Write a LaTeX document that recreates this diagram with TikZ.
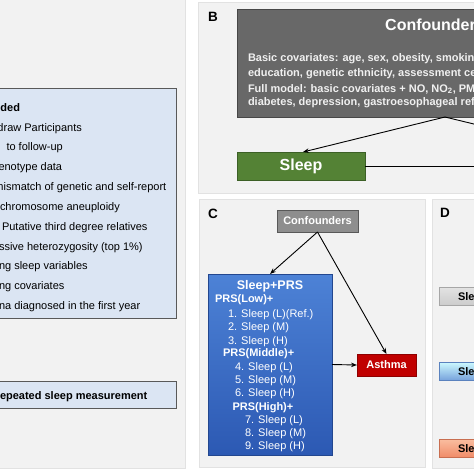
\documentclass[tikz,border=0pt]{standalone}
\usepackage{fontspec}
\setmainfont{Liberation Sans}
\usetikzlibrary{arrows.meta,shadows}
\definecolor{panelbg}{HTML}{F2F2F2}
\definecolor{panelln}{HTML}{E2E2E2}
\definecolor{shadowc}{HTML}{C4C4C4}
\definecolor{lightblue}{HTML}{DBE5F3}
\definecolor{boxline}{HTML}{595959}
\definecolor{darkgrey}{HTML}{686868}
\definecolor{midgrey}{HTML}{8E8E8E}
\definecolor{sleepgreen}{HTML}{548235}
\definecolor{sleepgreenln}{HTML}{3C6026}
\definecolor{prstop}{HTML}{4D82D6}
\definecolor{prsbot}{HTML}{2C59B3}
\definecolor{asthmared}{HTML}{C00000}
\definecolor{asthmaln}{HTML}{8E0000}
\begin{document}
\begin{tikzpicture}[x=1pt,y=-1pt,
  panel/.style={rectangle,fill=panelbg,draw=panelln,line width=0.6pt,inner sep=0pt,outer sep=0pt,
    drop shadow={shadow xshift=1.3pt,shadow yshift=-1.3pt,fill=shadowc,opacity=1}},
  box/.style={rectangle,inner sep=0pt,outer sep=0pt},
  txt/.style={inner sep=0pt,outer sep=0pt,font=\fontsize{11}{13}\selectfont},
  btxt/.style={txt,font=\fontsize{11}{13}\selectfont\bfseries},
  wtxt/.style={btxt,text=white},
  lbl/.style={inner sep=0pt,font=\fontsize{13.5}{15}\selectfont\bfseries},
  arr/.style={-{Stealth[length=6pt,width=4.5pt]},line width=0.9pt,black},
  ln/.style={line width=0.9pt,black}]
\useasboundingbox (0,0) rectangle (474,474);
\fill[white] (0,0) rectangle (474,474);
% panels
\node[panel,minimum width=190pt,minimum height=473pt] (pA) at (90,231.5) {};
\node[panel,minimum width=282pt,minimum height=191pt] (pB) at (339,97.5) {};
\node[panel,minimum width=226pt,minimum height=268pt] (pC) at (312,333) {};
\node[panel,minimum width=48pt,minimum height=269pt] (pD) at (456,333.5) {};
% Panel A
\node[box,fill=lightblue,draw=boxline,line width=1pt,minimum width=181pt,minimum height=230pt] (ex) at (85.5,203) {};
\node[btxt,anchor=base west] (a0) at (0.5,111) {ded};
\node[txt,anchor=base west] (a1) at (-2.5,131) {draw Participants};
\node[txt,anchor=base west] (a2) at (6.5,150) {to follow-up};
\node[txt,anchor=base west] (a3) at (-1.5,170) {enotype data};
\node[txt,anchor=base west] (a4) at (-5.5,190) {mismatch of genetic and self-report};
\node[txt,anchor=base west] (a5) at (0,210) {chromosome aneuploidy};
\node[txt,anchor=base west] (a6) at (2,230) {Putative third degree relatives};
\node[txt,anchor=base west] (a7) at (-1,250) {ssive heterozygosity (top 1\%)};
\node[txt,anchor=base west] (a8) at (-1,269) {ng sleep variables};
\node[txt,anchor=base west] (a9) at (-1,289) {ng covariates};
\node[txt,anchor=base west] (a10) at (-1,309) {na diagnosed in the first year};
\node[box,fill=lightblue,draw=boxline,line width=1pt,minimum width=181pt,minimum height=27pt] (rep) at (85.5,394.5) {};
\node[btxt,anchor=base west] (reptxt) at (0,399) {epeated sleep measurement};
% Panel B
\node[lbl,anchor=base west] (lB) at (208,21) {B};
\node[box,fill=darkgrey,draw=boxline!80!black,line width=0.8pt,minimum width=243pt,minimum height=108pt] (conf) at (358.5,63) {};
\node[inner sep=0pt,anchor=base west,text=white,font=\fontsize{16}{18}\selectfont\bfseries] (conft) at (385,30) {Confounder};
\node[wtxt,anchor=base west,text=white!94!black] (b1) at (248,61) {Basic covariates: age, sex, obesity, smokin};
\node[wtxt,anchor=base west,text=white!94!black] (b2) at (248,76) {education, genetic ethnicity, assessment ce};
\node[wtxt,anchor=base west,text=white!94!black] (b3) at (248,92) {Full model: basic covariates + NO, NO\textsubscript{2}, PM};
\node[wtxt,anchor=base west,text=white!94!black] (b4) at (248,105) {diabetes, depression, gastroesophageal ref};
\node[box,fill=sleepgreen,draw=sleepgreenln,line width=0.8pt,minimum width=128pt,minimum height=28pt,
  text=white,font=\fontsize{16}{18}\selectfont\bfseries] (sleep) at (301,166) {Sleep};
\coordinate (bv) at (445,117);
\coordinate (bend1) at (480,125.5);
\coordinate (bend2) at (480,166);
\draw[arr] (bv) -- (303,152);
\draw[ln] (bv) -- (bend1);
\draw[ln] (sleep.east) -- (bend2);
% Panel C
\node[lbl,anchor=base west] (lC) at (208,218) {C};
\node[box,fill=midgrey,draw=boxline,line width=0.8pt,minimum width=81pt,minimum height=22pt,
  font=\fontsize{11}{13}\selectfont\bfseries,text=white] (confC) at (317.5,221) {Confounders};
\node[box,top color=prstop,bottom color=prsbot,draw=prsbot!80!black,line width=0.5pt,minimum width=124pt,minimum height=181pt] (prs) at (270,364.5) {};
\node[inner sep=0pt,text=white,font=\fontsize{12.5}{14}\selectfont\bfseries] (prst) at (270,286) {Sleep+PRS};
\node[wtxt,anchor=base west] (c1) at (215,302) {PRS(Low)+};
\node[txt,text=white,anchor=base west] (c2) at (228,317) {1. Sleep (L)(Ref.)};
\node[txt,text=white,anchor=base west] (c3) at (228,330.5) {2. Sleep (M)};
\node[txt,text=white,anchor=base west] (c4) at (228,344) {3. Sleep (H)};
\node[wtxt,anchor=base west] (c5) at (223,356) {PRS(Middle)+};
\node[txt,text=white,anchor=base west] (c6) at (235,370) {4. Sleep (L)};
\node[txt,text=white,anchor=base west] (c7) at (235,383) {5. Sleep (M)};
\node[txt,text=white,anchor=base west] (c8) at (235,396) {6. Sleep (H)};
\node[wtxt,anchor=base west] (c9) at (232.5,410) {PRS(High)+};
\node[txt,text=white,anchor=base west] (c10) at (245,423) {7. Sleep (L)};
\node[txt,text=white,anchor=base west] (c11) at (245,436) {8. Sleep (M)};
\node[txt,text=white,anchor=base west] (c12) at (245,449) {9. Sleep (H)};
\node[box,fill=asthmared,draw=asthmaln,line width=0.8pt,minimum width=59pt,minimum height=22pt,
  font=\fontsize{11}{13}\selectfont\bfseries,text=white] (asthma) at (386.5,365) {Asthma};
\draw[arr] (confC.south) -- (prs.north);
\draw[arr] (confC.south) -- (asthma.north);
\draw[arr] (prs.east) -- (asthma.west);
% Panel D
\node[lbl,anchor=base west] (lD) at (440,217) {D};
\node[box,top color=gray!22,bottom color=gray!40,draw=gray!70,line width=0.6pt,minimum width=41pt,minimum height=18pt] (d1) at (459.5,296) {};
\node[btxt,anchor=base west] (d1t) at (458,300) {Sle};
\node[box,top color=blue!10!cyan!20!white,bottom color={rgb,255:red,120;green,163;blue,220},draw={rgb,255:red,90;green,130;blue,190},line width=0.6pt,minimum width=41pt,minimum height=18pt] (d2) at (459.5,371) {};
\node[btxt,anchor=base west] (d2t) at (458,375) {Sle};
\node[box,top color={rgb,255:red,250;green,190;blue,160},bottom color={rgb,255:red,240;green,140;blue,105},draw={rgb,255:red,200;green,110;blue,80},line width=0.6pt,minimum width=41pt,minimum height=18pt] (d3) at (459.5,448) {};
\node[btxt,anchor=base west] (d3t) at (458,452) {Sle};
\end{tikzpicture}
\end{document}
